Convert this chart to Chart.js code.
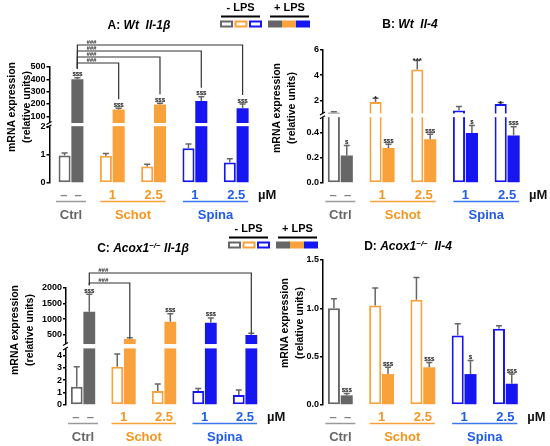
<!DOCTYPE html>
<html>
<head>
<meta charset="utf-8">
<script src="https://cdn.jsdelivr.net/npm/chart.js@4.4.1/dist/chart.umd.min.js"></script>
<style>
  body { margin: 0; background: #fff; }
  #page { position: relative; width: 550px; height: 446px; overflow: hidden;
          font-family: 'Liberation Sans', Arial, sans-serif; font-weight: bold; color: #000; }
  canvas { position: absolute; }
  .title { position: absolute; white-space: nowrap; font-size: 12px; line-height: 14px;
           transform: translate(-50%, -50%); }
  .title sup { font-size: 8px; vertical-align: 4px; line-height: 0; }
  .ytitle { position: absolute; white-space: nowrap; font-size: 10.5px; line-height: 15px;
            text-align: center; transform: translate(-50%, -50%) rotate(-90deg); }
</style>
</head>
<body>
<div id="page">
  <canvas id="cA" width="290" height="223" style="left:0;top:0"></canvas>
  <canvas id="cB" width="288" height="223" style="left:262px;top:0"></canvas>
  <canvas id="cC" width="290" height="228" style="left:0;top:218px"></canvas>
  <canvas id="cD" width="288" height="228" style="left:262px;top:218px"></canvas>

  <div class="title" style="left:139px;top:25px">A: <i>Wt&nbsp; Il-1β</i></div>
  <div class="title" style="left:410px;top:24px">B: <i>Wt&nbsp; Il-4</i></div>
  <div class="title" style="left:143px;top:248px">C: <i>Acox1<sup>−/−</sup> Il-1β</i></div>
  <div class="title" style="left:408px;top:246px">D: <i>Acox1<sup>−/−</sup>&nbsp; Il-4</i></div>

  <div class="ytitle" style="left:19px;top:107px">mRNA expression<br>(relative units)</div>
  <div class="ytitle" style="left:284px;top:108px">mRNA expression<br>(relative units)</div>
  <div class="ytitle" style="left:22px;top:330px">mRNA expression<br>(relative units)</div>
  <div class="ytitle" style="left:292px;top:323px">mRNA expression<br>(relative units)</div>
</div>

<script>
// ---- data ----
const doses = ['–  –', '1', '2.5', '1', '2.5'];
const groups = ['Ctrl', 'Schot', 'Spina'];
const keyLabels = ['- LPS', '+ LPS'];

// A: Wt Il-1b
const aMinus = [0.98, 0.97, 0.59, 1.24, 0.73];
const aMinusErr = [0.09, 0.08, 0.08, 0.15, 0.14];
const aPlus = [400, 155, 196, 224, 165];
const aPlusErr = [12, 10, 10, 35, 34];
const aMinusMarks = ['', '', '', '', ''];
const aPlusMarks = ['$$$', '$$$', '$$$', '$$$', '$$$'];
const aTicks = [0, 1, 2, 100, 200, 300, 400, 500];
const aTickLabels = ['0', '1', '2', '100', '200', '300', '400', '500'];

// B: Wt Il-4
const bMinus = [1.02, 1.87, 4.45, 1.18, 1.70];
const bMinusErr = [0.06, 0.28, 0.72, 0.33, 0.12];
const bPlus = [0.22, 0.28, 0.35, 0.40, 0.38];
const bPlusErr = [0.08, 0.03, 0.04, 0.06, 0.07];
const bMinusMarks = ['', '*', '***', '', '*'];
const bPlusMarks = ['$', '$$$', '$$$', '$', '$$$'];
const bTicks = [0, 0.2, 0.4, 2, 4, 6];
const bTickLabels = ['0.0', '0.2', '0.4', '2', '4', '6'];

// C: Acox1-/- Il-1b
const cMinus = [1.48, 3.09, 1.13, 1.13, 0.81];
const cMinusErr = [1.61, 1.02, 0.56, 0.21, 0.40];
const cPlus = [1240, 360, 920, 880, 490];
const cPlusErr = [560, 45, 250, 160, 60];
const cMinusMarks = ['', '', '', '', ''];
const cPlusMarks = ['$$$', '', '$$$', '$$$', ''];
const cTicks = [0, 1, 2, 3, 4, 500, 1000, 1500, 2000];
const cTickLabels = ['0', '1', '2', '3', '4', '500', '1000', '1500', '2000'];

// D: Acox1-/- Il-4
const dMinus = [1.0, 1.03, 1.09, 0.72, 0.79];
const dMinusErr = [0.10, 0.18, 0.23, 0.12, 0.03];
const dPlus = [0.10, 0.32, 0.39, 0.32, 0.22];
const dPlusErr = [0.02, 0.07, 0.05, 0.14, 0.10];
const dMinusMarks = ['', '', '', '', ''];
const dPlusMarks = ['$$$', '$$$', '$$$', '$', '$$$'];
const dTicks = [0, 0.5, 1, 1.5];
const dTickLabels = ['0.0', '0.5', '1.0', '1.5'];

// ---- styles ----
const FONT = "'Liberation Sans', Arial, sans-serif";
const GRAY = '#666666', ORANGE = '#f9a13a', BLUE = '#1616f2';
const barColors = [GRAY, ORANGE, ORANGE, BLUE, BLUE];
const keyColors = [GRAY, ORANGE, BLUE];
const tickColors = ['#858585', '#f7961f', '#f7961f', '#1f5ce8', '#1f5ce8'];
const groupText = ['#666666', '#f7961f', '#1f5ce8'];
const groupLine = ['#9a9a9a', '#f9a13a', '#3b78f0'];
const groupSpans = [[0, 0], [1, 2], [3, 4]];
const Y_W = 30, X_H = 20;

Chart.defaults.font.family = FONT;
Chart.defaults.font.weight = 'bold';

// linear axis with one break: [0, lowMax] below, [highMin, max] above
class BrokenScale extends Chart.LinearScale {
  static id = 'broken';
  toDecimal(v) {
    const b = this.options.breakAt;
    if (v <= b.lowMax) return v / b.lowMax * b.lowTop;
    if (v >= b.highMin) return b.highBottom + (v - b.highMin) / (this.max - b.highMin) * (1 - b.highBottom);
    return b.lowTop + (v - b.lowMax) / (b.highMin - b.lowMax) * (b.highBottom - b.lowTop);
  }
  getPixelForValue(v) {
    return this.getPixelForDecimal(this.toDecimal(v));
  }
  getValueForPixel(p) {
    const b = this.options.breakAt, d = this.getDecimalForPixel(p);
    if (d <= b.lowTop) return d / b.lowTop * b.lowMax;
    if (d >= b.highBottom) return b.highMin + (d - b.highBottom) / (1 - b.highBottom) * (this.max - b.highMin);
    return b.lowMax;
  }
}
Chart.register(BrokenScale);

const extras = {
  id: 'extras',
  afterDatasetsDraw(chart, args, opts) {
    const ctx = chart.ctx, area = chart.chartArea;
    const x = chart.scales.x, y = chart.scales.y;
    const brk = y.options.breakAt;
    ctx.save();

    // gap of the broken axis
    if (brk) {
      const yHi = y.getPixelForDecimal(brk.highBottom), yLo = y.getPixelForDecimal(brk.lowTop);
      ctx.fillStyle = '#fff';
      ctx.fillRect(area.left - 1.5, yHi, area.right - area.left + 1.5, yLo - yHi - 0.8);
      ctx.strokeStyle = '#000';
      ctx.lineWidth = 1.2;
      [yHi, yLo - 0.8].forEach(py => {
        ctx.beginPath();
        ctx.moveTo(area.left - 3, py + 1.5);
        ctx.lineTo(area.left + 2, py - 1.5);
        ctx.stroke();
      });
    }

    // error bars and significance marks
    ctx.textAlign = 'center';
    chart.data.datasets.forEach((ds, di) => {
      chart.getDatasetMeta(di).data.forEach((bar, i) => {
        const top = y.getPixelForValue(ds.data[i] + ds.errors[i]);
        ctx.strokeStyle = '#666';
        ctx.lineWidth = 1.5;
        ctx.beginPath();
        ctx.moveTo(bar.x, bar.y);
        ctx.lineTo(bar.x, top);
        ctx.moveTo(bar.x - 3, top);
        ctx.lineTo(bar.x + 3, top);
        ctx.stroke();
        const m = ds.marks[i];
        if (m) {
          ctx.fillStyle = '#111';
          const star = m[0] === '*';
          ctx.font = 'bold ' + (star ? 8 : 6) + 'px ' + FONT;
          ctx.textBaseline = 'alphabetic';
          ctx.fillText(m, bar.x, star ? top + 3 : top - 1.5);
        }
      });
    });

    // brackets from Ctrl +LPS to treated +LPS bars
    const plus = chart.data.datasets[1], pm = chart.getDatasetMeta(1);
    const endY = i => y.getPixelForValue(plus.data[i] + plus.errors[i]) - (plus.marks[i] ? 9 : 0);
    (opts.brackets || []).forEach(b => {
      const x0 = pm.data[0].x, x1 = pm.data[b.to].x, ly = area.top - b.rise;
      ctx.strokeStyle = '#333';
      ctx.lineWidth = 1.2;
      ctx.beginPath();
      ctx.moveTo(x0, endY(0));
      ctx.lineTo(x0, ly);
      ctx.lineTo(x1, ly);
      ctx.lineTo(x1, endY(b.to));
      ctx.stroke();
      ctx.fillStyle = '#333';
      ctx.font = 'italic bold 6px ' + FONT;
      ctx.textBaseline = 'alphabetic';
      ctx.fillText('###', x0 + 14, ly - 1);
    });

    // group underlines, group names and unit
    ctx.textBaseline = 'middle';
    groupSpans.forEach(([a, b], g) => {
      const pad = a === b ? 15 : 12;
      const xa = x.getPixelForValue(a) - pad, xb = x.getPixelForValue(b) + pad;
      const ly = area.bottom + 18.5;
      ctx.strokeStyle = groupLine[g];
      ctx.lineWidth = 1.5;
      ctx.beginPath();
      ctx.moveTo(xa, ly);
      ctx.lineTo(xb, ly);
      ctx.stroke();
      ctx.fillStyle = groupText[g];
      ctx.font = 'bold 13px ' + FONT;
      ctx.fillText(groups[g], (xa + xb) / 2, area.bottom + 32);
    });
    ctx.fillStyle = '#111';
    ctx.font = 'bold 13px ' + FONT;
    ctx.fillText('µM', x.getPixelForValue(4) + 31, area.bottom + 12);

    // one half of the -LPS / +LPS key (part 0 open boxes, part 1 filled)
    const k = opts.key;
    if (k) {
      const kx = k.x + k.part * 49;
      ctx.font = 'bold 11px ' + FONT;
      ctx.fillStyle = '#000';
      ctx.fillText(keyLabels[k.part], kx + 19.5, k.y - 8.5);
      ctx.fillRect(kx, k.y - 1, 39, 2);
      ctx.lineWidth = 2;
      keyColors.forEach((c, i) => {
        if (k.part === 0) {
          ctx.strokeStyle = c;
          ctx.strokeRect(k.x + i * 14.5, k.y + 5, 11, 5);
        } else {
          ctx.fillStyle = c;
          ctx.fillRect(k.x + 47 + i * 14, k.y + 4, 14, 7);
        }
      });
    }
    ctx.restore();
  }
};

// box and key are given in page pixels; the canvas origin is subtracted here
function panel(id, box, yAxis, minus, minusErr, minusMarks, plus, plusErr, plusMarks, brackets, key) {
  const cv = document.getElementById(id);
  cv.getContext('2d', { willReadFrequently: true });
  const ox = cv.offsetLeft, oy = cv.offsetTop, cw = cv.width, chh = cv.height;
  const localKey = key ? { x: key.x - ox, y: key.y - oy, part: key.part } : null;
  return new Chart(cv, {
    type: 'bar',
    data: {
      labels: doses,
      datasets: [
        { label: keyLabels[0], data: minus, errors: minusErr, marks: minusMarks,
          backgroundColor: '#fff', borderColor: barColors, borderWidth: 2, borderSkipped: false },
        { label: keyLabels[1], data: plus, errors: plusErr, marks: plusMarks,
          backgroundColor: barColors, borderWidth: 0 }
      ]
    },
    options: {
      responsive: false,
      animation: false,
      events: [],
      layout: { padding: { left: box.left - ox - Y_W, top: box.top - oy,
                           right: cw - (box.right - ox), bottom: chh - (box.bottom - oy) - X_H } },
      datasets: { bar: { categoryPercentage: 0.62, barPercentage: 0.94 } },
      plugins: { legend: { display: false }, tooltip: { enabled: false }, extras: { brackets, key: localKey } },
      scales: {
        x: {
          type: 'category', offset: true,
          grid: { display: false, drawTicks: false },
          border: { display: false },
          ticks: { color: c => tickColors[c.index], font: { size: 13, weight: 'bold' }, padding: 5,
                   maxRotation: 0, autoSkip: false },
          afterBuildTicks: s => { s._startValue = -box.padLeft; s._valueRange = 4.5 + box.padLeft; },
          afterFit: s => { s.height = X_H; }
        },
        y: {
          type: yAxis.breakAt ? 'broken' : 'linear',
          min: 0, max: yAxis.max, breakAt: yAxis.breakAt,
          grid: { display: true, drawOnChartArea: false, drawTicks: true, tickLength: 3, color: '#000', lineWidth: 1.5 },
          border: { display: true, color: '#000', width: 1.5 },
          ticks: { color: '#000', font: { size: 9, weight: 'bold' }, padding: 1, autoSkip: false,
                   callback: (v, i) => yAxis.labels[i] },
          afterBuildTicks: s => { s.ticks = yAxis.ticks.map(v => ({ value: v })); },
          afterFit: s => { s.width = Y_W; }
        }
      }
    },
    plugins: [extras]
  });
}

panel('cA', { left: 49.5, right: 256.85, top: 67, bottom: 183, padLeft: 0.52 },
  { max: 500, ticks: aTicks, labels: aTickLabels,
    breakAt: { lowMax: 2, lowTop: 0.483, highMin: 45, highBottom: 0.517 } },
  aMinus, aMinusErr, aMinusMarks, aPlus, aPlusErr, aPlusMarks,
  [{ to: 4, rise: 22 }, { to: 3, rise: 16 }, { to: 2, rise: 10 }, { to: 1, rise: 4 }],
  { x: 221, y: 16.5, part: 0 });

panel('cB', { left: 323, right: 528, top: 50, bottom: 183, padLeft: 0.415 },
  { max: 6, ticks: bTicks, labels: bTickLabels,
    breakAt: { lowMax: 0.52, lowTop: 0.489, highMin: 0.95, highBottom: 0.523 } },
  bMinus, bMinusErr, bMinusMarks, bPlus, bPlusErr, bPlusMarks, [],
  { x: 221, y: 16.5, part: 1 });

panel('cC', { left: 66, right: 265.3, top: 288, bottom: 405, padLeft: 0.42 },
  { max: 2000, ticks: cTicks, labels: cTickLabels,
    breakAt: { lowMax: 4.5, lowTop: 0.477, highMin: 200, highBottom: 0.521 } },
  cMinus, cMinusErr, cMinusMarks, cPlus, cPlusErr, cPlusMarks,
  [{ to: 4, rise: 15 }, { to: 1, rise: 5 }],
  { x: 229, y: 237.5, part: 0 });

panel('cD', { left: 323, right: 526, top: 260, bottom: 405, padLeft: 0.42 },
  { max: 1.5, ticks: dTicks, labels: dTickLabels },
  dMinus, dMinusErr, dMinusMarks, dPlus, dPlusErr, dPlusMarks, [],
  { x: 229, y: 237.5, part: 1 });
</script>
</body>
</html>
